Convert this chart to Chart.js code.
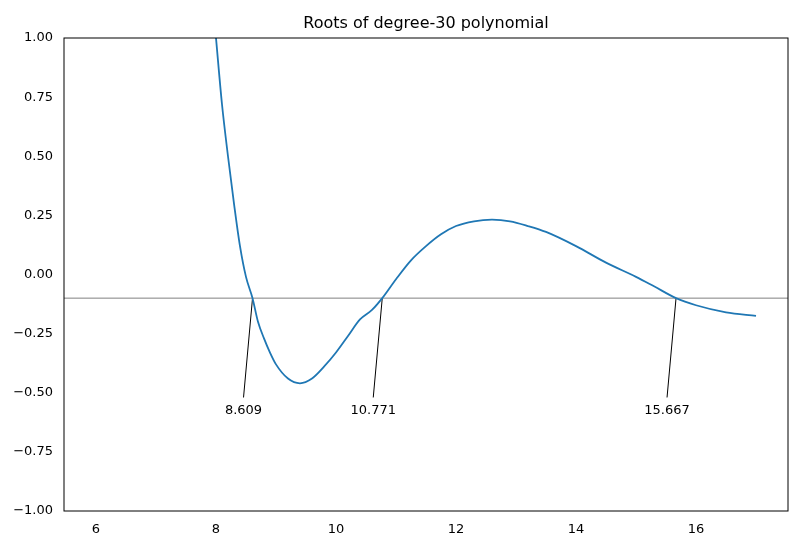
<!DOCTYPE html>
<html>
<head>
<meta charset="utf-8">
<script src="https://cdn.jsdelivr.net/npm/chart.js@4/dist/chart.umd.min.js"></script>
<style>
  html, body { margin: 0; padding: 0; background: #fff; }
  #wrap { width: 800px; height: 544px; }
</style>
</head>
<body>
<div id="wrap"><canvas id="chart"></canvas></div>
<script>
const chartTitle = 'Roots of degree-30 polynomial';
const curveX = [8.0, 8.1, 8.2, 8.3, 8.4, 8.5, 8.609, 8.7, 8.8, 8.9, 9.0, 9.2, 9.4, 9.6, 9.8, 10.0, 10.2, 10.4, 10.6, 10.771, 11.0, 11.25, 11.5, 11.75, 12.0, 12.3, 12.6, 12.9, 13.2, 13.5, 14.0, 14.5, 15.0, 15.3, 15.667, 16.0, 16.5, 17.0];
const curveY = [1.0, 0.72, 0.5, 0.3, 0.12, -0.01, -0.1, -0.2, -0.27, -0.33, -0.38, -0.44, -0.46, -0.44, -0.39, -0.33, -0.26, -0.19, -0.15, -0.1, -0.02, 0.06, 0.12, 0.17, 0.205, 0.225, 0.232, 0.225, 0.205, 0.18, 0.12, 0.05, -0.01, -0.05, -0.1, -0.13, -0.16, -0.175];
const level = -0.1;
const roots = [8.609, 10.771, 15.667];
const rootLabels = ['8.609', '10.771', '15.667'];
const labelOffsetX = -0.15;
const labelEndY = -0.52;
const labelTextY = -0.575;
const yTicks = [-1, -0.75, -0.5, -0.25, 0, 0.25, 0.5, 0.75, 1];

const datasets = [{
  data: curveX.map((x, i) => ({ x: x, y: curveY[i] })),
  borderColor: '#1f77b4', borderWidth: 1.8, pointRadius: 0, tension: 0.4, cubicInterpolationMode: 'monotone'
}, {
  data: [{ x: 5.467, y: level }, { x: 17.533, y: level }],
  borderColor: '#808080', borderWidth: 1, pointRadius: 0
}];
roots.forEach(r => datasets.push({
  data: [{ x: r, y: level }, { x: r + labelOffsetX, y: labelEndY }],
  borderColor: '#000', borderWidth: 1, pointRadius: 0
}));

const extras = {
  id: 'extras',
  afterDraw(chart) {
    const { ctx, chartArea: a, scales } = chart;
    ctx.save();
    ctx.strokeStyle = '#000';
    ctx.lineWidth = 1;
    ctx.strokeRect(a.left, a.top, a.right - a.left, a.bottom - a.top);
    ctx.fillStyle = '#000';
    ctx.font = '16px "DejaVu Sans"';
    ctx.textAlign = 'center';
    ctx.textBaseline = 'bottom';
    ctx.fillText(chartTitle, (a.left + a.right) / 2, a.top - 6);
    ctx.font = '13px "DejaVu Sans"';
    ctx.textBaseline = 'middle';
    roots.forEach((r, i) => {
      ctx.fillText(rootLabels[i], scales.x.getPixelForValue(r + labelOffsetX), scales.y.getPixelForValue(labelTextY));
    });
    ctx.restore();
  }
};

new Chart(document.getElementById('chart'), {
  type: 'line',
  data: { datasets: datasets },
  options: {
    responsive: true, maintainAspectRatio: false, animation: false,
    layout: { padding: { top: 38, right: 12, left: 0, bottom: 0 } },
    plugins: { legend: { display: false }, tooltip: { enabled: false } },
    scales: {
      x: {
        type: 'linear', min: 5.467, max: 17.533,
        grid: { display: false, drawTicks: true },
        border: { display: false },
        afterBuildTicks: s => { s.ticks = [6, 8, 10, 12, 14, 16].map(v => ({ value: v })); },
        ticks: { color: '#000', font: { size: 13, family: 'DejaVu Sans' } },
        afterFit: s => { s.height = 33; }
      },
      y: {
        min: -1, max: 1,
        grid: { display: false },
        border: { display: false },
        afterBuildTicks: s => { s.ticks = yTicks.map(v => ({ value: v })); },
        ticks: { color: '#000', font: { size: 13, family: 'DejaVu Sans' }, callback: v => v.toFixed(2).replace('-', '\u2212') },
        afterFit: s => { s.width = 64; }
      }
    }
  },
  plugins: [extras]
});
</script>
</body>
</html>
